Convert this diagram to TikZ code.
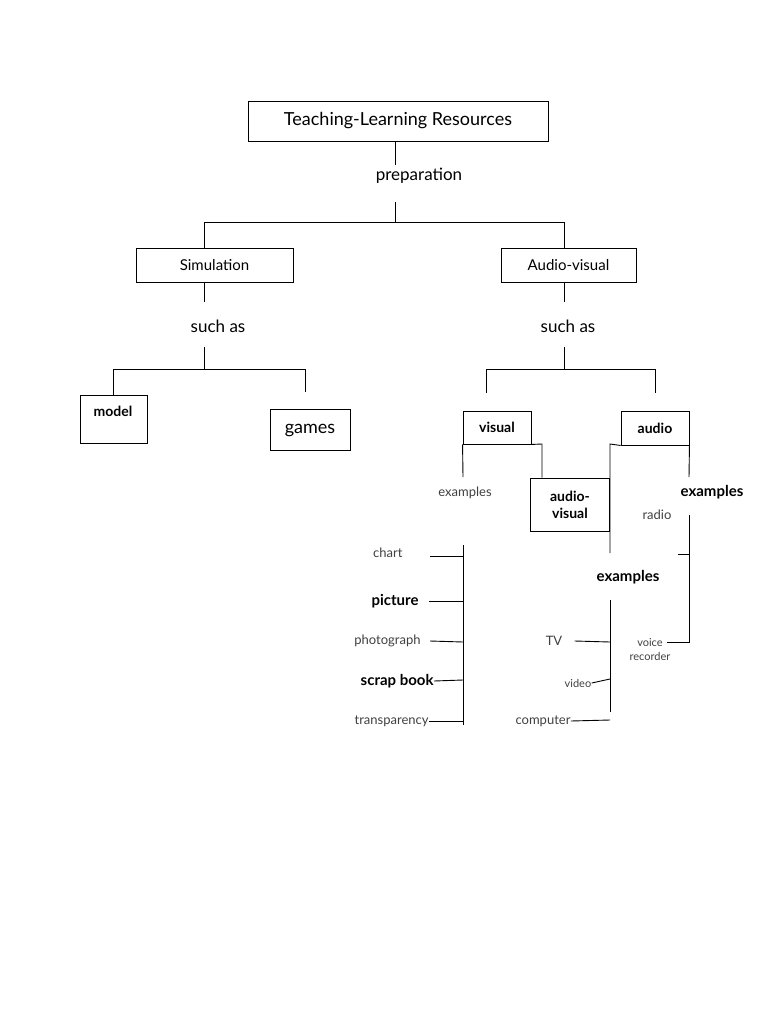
\documentclass[tikz,border=0pt]{standalone}
\usepackage{fontspec}
\setmainfont{Lato}
\begin{document}
\begin{tikzpicture}[x=1pt,y=-1pt,line width=0.9pt,
  box/.style={draw,rectangle,inner sep=0pt},
  lbl/.style={inner sep=0pt,font=\fontsize{17}{19}\selectfont},
  sm/.style={inner sep=0pt,font=\fontsize{13}{15}\selectfont,text=black!75},
  bd/.style={inner sep=0pt,font=\bfseries\fontsize{15}{17}\selectfont}]
\useasboundingbox (0,0) rectangle (768,1024);
% top
\node[box,minimum width=300,minimum height=40,font=\fontsize{18}{20}\selectfont] (tl) at (398,121) {Teaching-Learning Resources};
\node[lbl] (prep) at (419,176) {preparation};
\coordinate (p1) at (395,165); \coordinate (p2) at (395,202); \coordinate (p3) at (395,222);
\draw (tl.south -| p1) -- (p1);
\draw (p2) -- (p3);
\node[box,minimum width=157,minimum height=34,font=\fontsize{15}{17}\selectfont] (sim) at (214.5,265) {Simulation};
\node[box,minimum width=135,minimum height=34,font=\fontsize{15}{17}\selectfont] (av) at (568.5,265) {Audio-visual};
\coordinate (h1) at (204,222); \coordinate (h2) at (564,222);
\draw (sim.north -| h1) -- (h1) -- (h2) -- (av.north -| h2);
% such as
\node[lbl] (sa1) at (218,326) {such as};
\node[lbl] (sa2) at (568,326) {such as};
\coordinate (s1) at (204,302); \coordinate (s2) at (204,347); \coordinate (s3) at (204,369);
\draw (sim.south -| s1) -- (s1); \draw (s2) -- (s3);
\coordinate (t1) at (564,302); \coordinate (t2) at (564,347); \coordinate (t3) at (564,369);
\draw (av.south -| t1) -- (t1); \draw (t2) -- (t3);
\coordinate (ma) at (113,395); \coordinate (ga) at (305,392);
\draw (ma) -- (113,369) -- (305,369) -- (ga);
\coordinate (va) at (486,393); \coordinate (aa) at (655,393);
\draw (va) -- (486,369) -- (655,369) -- (aa);
% model / games
\node[box,minimum width=67,minimum height=48] (model) at (113.5,419) {};
\node[bd,font=\bfseries\fontsize{14}{16}\selectfont] (modelt) at (113,411) {model};
\node[box,minimum width=80,minimum height=41,font=\fontsize{18}{20}\selectfont] (games) at (310,430) {games};
% visual / audio
\node[box,minimum width=68,minimum height=33,font=\bfseries\fontsize{14}{16}\selectfont] (vis) at (497,427.5) {visual};
\node[box,minimum width=68,minimum height=34,font=\bfseries\fontsize{14}{16}\selectfont] (aud) at (655,428) {audio};
\node[box,minimum width=79,minimum height=53,align=center,font=\bfseries\fontsize{14}{17}\selectfont] (avb) at (570,504.5) {audio-\\visual};
\draw (vis.south east) -- (542,444) -- (avb.north -| 542,0);
\draw (aud.south west) -- (610,444) -- (610,553);
% visual examples
\node[sm] (vex) at (465,493) {examples};
\draw (vis.south west) -- (463,477);
\draw (463,545) -- (463,725);
\node[sm,anchor=east] (chart) at (403,553) {chart};
\node[bd,anchor=east] (pic) at (419,601) {picture};
\node[sm,anchor=east] (photo) at (421,641) {photograph};
\node[bd,anchor=east] (scrap) at (434,681) {scrap book};
\node[sm,anchor=east] (trans) at (429,721) {transparency};
\draw (430,556) -- (463,556);
\draw (pic.east) ++(10,0) -- (463,601);
\draw (photo.east) ++(9,0) -- (463,642);
\draw (scrap.east) -- (463,680);
\draw (trans.east) -- (463,721);
% av examples
\node[bd] (aex) at (628,577) {examples};
\draw (610,600) -- (610,712);
\node[sm] (tv) at (554,641) {TV};
\node[sm,font=\fontsize{11}{13}\selectfont] (video) at (578,683) {video};
\node[sm] (comp) at (543,721) {computer};
\draw (tv.east) ++(12,0) -- (610,642);
\draw (video.east) -- (610,679);
\draw (comp.east) -- (610,720);
% audio examples
\node[bd] (adx) at (712,492) {examples};
\node[sm] (radio) at (657,515) {radio};
\draw (aud.south east) -- (689,477);
\draw (689,515) -- (689,643);
\draw (678,554) -- (689,554);
\node[sm,align=center,font=\fontsize{11}{14}\selectfont] (voice) at (650,650) {voice\\recorder};
\draw (667,642) -- (689,642);
\end{tikzpicture}
\end{document}
